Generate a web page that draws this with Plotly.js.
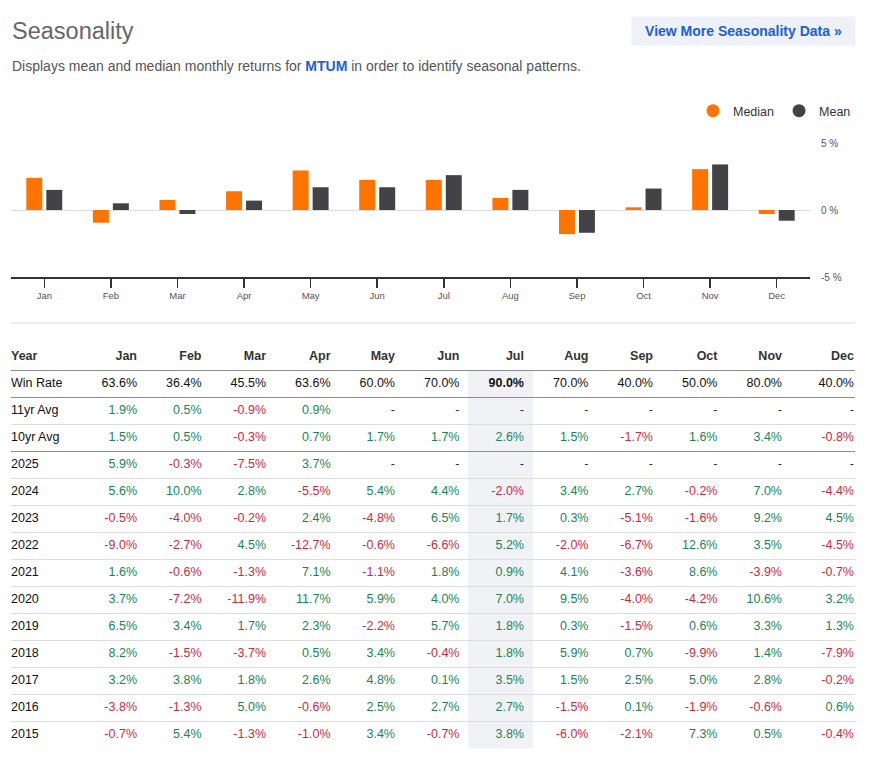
<!DOCTYPE html>
<html>
<head>
<meta charset="utf-8">
<script src="https://cdn.plot.ly/plotly-3.0.1.min.js"></script>
<style>
html,body{margin:0;padding:0;background:#ffffff;}
#chart{width:870px;height:760px;}
</style>
</head>
<body>
<div id="chart"></div>
<script>
// ---------------- DATA ----------------
const months = ['Jan','Feb','Mar','Apr','May','Jun','Jul','Aug','Sep','Oct','Nov','Dec'];
const medianReturns = [2.4, -0.95, 0.75, 1.4, 2.95, 2.25, 2.25, 0.9, -1.8, 0.2, 3.05, -0.3];
const meanReturns   = [1.5, 0.5, -0.3, 0.7, 1.7, 1.7, 2.6, 1.5, -1.7, 1.6, 3.4, -0.8];
const yTickValues = [-5, 0, 5];
const yTickLabels = ['-5 %', '0 %', '5 %'];

const tableHeader = ['Year'].concat(months);
const rowLabels = ['Win Rate','11yr Avg','10yr Avg','2025','2024','2023','2022','2021','2020','2019','2018','2017','2016','2015'];

const winRate = [63.6, 36.4, 45.5, 63.6, 60.0, 70.0, 90.0, 70.0, 40.0, 50.0, 80.0, 40.0];
const avg11yr = [1.9, 0.5, -0.9, 0.9, null, null, null, null, null, null, null, null];
const avg10yr = [1.5, 0.5, -0.3, 0.7, 1.7, 1.7, 2.6, 1.5, -1.7, 1.6, 3.4, -0.8];
const ret2025 = [5.9, -0.3, -7.5, 3.7, null, null, null, null, null, null, null, null];
const ret2024 = [5.6, 10.0, 2.8, -5.5, 5.4, 4.4, -2.0, 3.4, 2.7, -0.2, 7.0, -4.4];
const ret2023 = [-0.5, -4.0, -0.2, 2.4, -4.8, 6.5, 1.7, 0.3, -5.1, -1.6, 9.2, 4.5];
const ret2022 = [-9.0, -2.7, 4.5, -12.7, -0.6, -6.6, 5.2, -2.0, -6.7, 12.6, 3.5, -4.5];
const ret2021 = [1.6, -0.6, -1.3, 7.1, -1.1, 1.8, 0.9, 4.1, -3.6, 8.6, -3.9, -0.7];
const ret2020 = [3.7, -7.2, -11.9, 11.7, 5.9, 4.0, 7.0, 9.5, -4.0, -4.2, 10.6, 3.2];
const ret2019 = [6.5, 3.4, 1.7, 2.3, -2.2, 5.7, 1.8, 0.3, -1.5, 0.6, 3.3, 1.3];
const ret2018 = [8.2, -1.5, -3.7, 0.5, 3.4, -0.4, 1.8, 5.9, 0.7, -9.9, 1.4, -7.9];
const ret2017 = [3.2, 3.8, 1.8, 2.6, 4.8, 0.1, 3.5, 1.5, 2.5, 5.0, 2.8, -0.2];
const ret2016 = [-3.8, -1.3, 5.0, -0.6, 2.5, 2.7, 2.7, -1.5, 0.1, -1.9, -0.6, 0.6];
const ret2015 = [-0.7, 5.4, -1.3, -1.0, 3.4, -0.7, 3.8, -6.0, -2.1, 7.3, 0.5, -0.4];

const returnRows = [avg11yr, avg10yr, ret2025, ret2024, ret2023, ret2022, ret2021, ret2020, ret2019, ret2018, ret2017, ret2016, ret2015];

// ---------------- STYLE ----------------
const W = 870, H = 760;
const fx = p => p / W;
const fy = p => 1 - p / H;
const FONT = 'Arial, "Liberation Sans", sans-serif';
const ORANGE = '#ff7400';
const DARK = '#434247';
const GREEN = '#178559';
const RED = '#cc2a3f';
const BLUE = '#1d5fd3';
const highlightCol = 7;           // Jul
const lastColShift = 0.116;       // last column sits a bit further right
const tableShift = 2;             // px

function colPos(i) { return i + (i === 12 ? lastColShift : 0); }
function fmt(v) { return (v === null || v === undefined) ? '-' : v.toFixed(1) + '%'; }
function colr(v) { return (v === null || v === undefined) ? '#333333' : (v < 0 ? RED : GREEN); }

// ---------------- TRACES ----------------
const traces = [];

traces.push({
  type: 'bar', name: 'Median', x: months, y: medianReturns,
  marker: {color: ORANGE}, showlegend: false, hoverinfo: 'skip',
  xaxis: 'x', yaxis: 'y'
});
traces.push({
  type: 'bar', name: 'Mean', x: months, y: meanReturns,
  marker: {color: DARK}, showlegend: false, hoverinfo: 'skip',
  xaxis: 'x', yaxis: 'y'
});
// legend entries with round symbols
traces.push({type: 'scatter', mode: 'markers', name: 'Median', x: [null], y: [null],
  marker: {color: ORANGE, size: 13, symbol: 'circle'}, xaxis: 'x', yaxis: 'y', hoverinfo: 'skip'});
traces.push({type: 'scatter', mode: 'markers', name: 'Mean', x: [null], y: [null],
  marker: {color: DARK, size: 13, symbol: 'circle'}, xaxis: 'x', yaxis: 'y', hoverinfo: 'skip'});

// table header
traces.push({
  type: 'scatter', mode: 'text', showlegend: false, hoverinfo: 'skip',
  x: [-0.953], y: [0], text: ['<b>' + tableHeader[0] + '</b>'],
  textposition: 'middle right',
  textfont: {family: FONT, size: 12.5, color: '#333333'},
  xaxis: 'x2', yaxis: 'y2'
});
traces.push({
  type: 'scatter', mode: 'text', showlegend: false, hoverinfo: 'skip',
  x: months.map((m, i) => colPos(i + 1)), y: months.map(() => 0),
  text: months.map(m => '<b>' + m + '</b>'),
  textposition: 'middle left',
  textfont: {family: FONT, size: 12.5, color: '#333333'},
  xaxis: 'x2', yaxis: 'y2'
});
// row labels
traces.push({
  type: 'scatter', mode: 'text', showlegend: false, hoverinfo: 'skip',
  x: rowLabels.map(() => -0.953), y: rowLabels.map((r, i) => i + 1),
  text: rowLabels, textposition: 'middle right',
  textfont: {family: FONT, size: 12.5, color: '#111111'},
  xaxis: 'x2', yaxis: 'y2'
});
// win rate row
traces.push({
  type: 'scatter', mode: 'text', showlegend: false, hoverinfo: 'skip',
  x: winRate.map((v, i) => colPos(i + 1)), y: winRate.map(() => 1),
  text: winRate.map((v, i) => (i + 1 === highlightCol ? '<b>' + v.toFixed(1) + '%</b>' : v.toFixed(1) + '%')),
  textposition: 'middle left',
  textfont: {family: FONT, size: 12.5, color: '#111111'},
  xaxis: 'x2', yaxis: 'y2'
});
// return rows
const cx = [], cy = [], ct = [], cc = [];
returnRows.forEach((row, r) => {
  row.forEach((v, i) => {
    cx.push(colPos(i + 1)); cy.push(r + 2); ct.push(fmt(v)); cc.push(colr(v));
  });
});
traces.push({
  type: 'scatter', mode: 'text', showlegend: false, hoverinfo: 'skip',
  x: cx, y: cy, text: ct, textposition: 'middle left',
  textfont: {family: FONT, size: 12.5, color: cc},
  xaxis: 'x2', yaxis: 'y2'
});

// ---------------- SHAPES ----------------
const shapes = [];
shapes.push({type: 'rect', xref: 'x2', yref: 'y2', layer: 'below',
  x0: highlightCol - 0.87, x1: highlightCol + 0.14, y0: 0.5, y1: rowLabels.length + 0.5,
  fillcolor: '#f1f2f6', line: {width: 0}});
for (let i = 0; i < rowLabels.length; i++) {
  const dark = (i === 0 || i === 1 || i === 3);
  shapes.push({type: 'line', xref: 'x2 domain', yref: 'y2', x0: 0, x1: 1, y0: i + 0.5, y1: i + 0.5,
    line: {color: dark ? '#8c8c8c' : '#dddddd', width: 1}});
}
shapes.push({type: 'line', xref: 'paper', yref: 'paper', x0: fx(11), x1: fx(855), y0: fy(323), y1: fy(323),
  line: {color: '#dddddd', width: 1}});

// ---------------- LAYOUT ----------------
const layout = {
  width: W, height: H,
  margin: {l: 0, r: 0, t: 0, b: 0, pad: 0},
  paper_bgcolor: '#ffffff', plot_bgcolor: 'rgba(0,0,0,0)',
  font: {family: FONT, color: '#333333'},
  title: {text: 'Seasonality', x: fx(12), xanchor: 'left', y: fy(31), yanchor: 'middle',
    font: {family: FONT, size: 23.5, color: '#666666'}},
  barmode: 'group', bargap: 0.4, bargroupgap: 0.2,
  showlegend: true,
  legend: {orientation: 'h', x: fx(856), xanchor: 'right', y: fy(111), yanchor: 'middle',
    font: {family: FONT, size: 12.5, color: '#333333'}, bgcolor: 'rgba(0,0,0,0)',
    traceorder: 'normal', itemclick: false, itemdoubleclick: false},
  xaxis: {domain: [fx(11), fx(810)], anchor: 'y', type: 'category',
    showline: true, linecolor: '#333333', linewidth: 1.5,
    ticks: 'outside', ticklen: 9, tickwidth: 1.5, tickcolor: '#333333',
    tickfont: {family: FONT, size: 9.5, color: '#555555'},
    showgrid: false, zeroline: false, fixedrange: true},
  yaxis: {domain: [fy(277), fy(143)], anchor: 'x', side: 'right', range: [-5, 5],
    tickmode: 'array', tickvals: yTickValues, ticktext: yTickLabels, ticks: '',
    tickfont: {family: FONT, size: 10, color: '#555555'},
    showgrid: true, gridcolor: '#dddddd', gridwidth: 1, zeroline: false,
    showline: false, fixedrange: true, ticklabelstandoff: 10},
  xaxis2: {domain: [fx(11), fx(855)], anchor: 'y2', range: [-0.9535, 12.132],
    visible: false, fixedrange: true},
  yaxis2: {domain: [fy(746.5 + tableShift), fy(341.5 + tableShift)], anchor: 'x2', range: [rowLabels.length + 0.5, -0.5],
    visible: false, fixedrange: true},
  shapes: shapes,
  annotations: [
    {xref: 'paper', yref: 'paper', x: fx(10), y: fy(66), xanchor: 'left', yanchor: 'middle',
      showarrow: false, align: 'left',
      text: 'Displays mean and median monthly returns for <span style="color:' + BLUE + '"><b>MTUM</b></span> in order to identify seasonal patterns.',
      font: {family: FONT, size: 14, color: '#555555'}},
    {xref: 'paper', yref: 'paper', x: fx(743.5), y: fy(31), xanchor: 'center', yanchor: 'middle',
      showarrow: false, width: 223, height: 28, borderpad: 0, bgcolor: '#eef1f7',
      text: '<b>View More Seasonality Data »</b>',
      font: {family: FONT, size: 14, color: BLUE}}
  ]
};

Plotly.newPlot('chart', traces, layout, {displayModeBar: false, staticPlot: true});
</script>
</body>
</html>
